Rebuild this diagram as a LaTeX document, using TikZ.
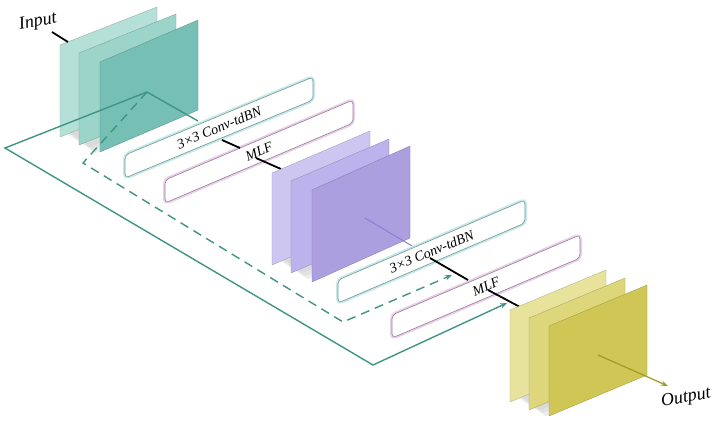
\documentclass[tikz,border=0pt]{standalone}
\usepackage{fontspec}
\setmainfont{Liberation Serif}
\usetikzlibrary{arrows.meta}
\definecolor{teal1}{HTML}{B4E0D8}\definecolor{teal2}{HTML}{9DD4CA}\definecolor{teal3}{HTML}{76BFB4}
\definecolor{pur1}{HTML}{CDC6F0}\definecolor{pur2}{HTML}{BDB3EC}\definecolor{pur3}{HTML}{AB9FE0}
\definecolor{yel1}{HTML}{E8E39C}\definecolor{yel2}{HTML}{DDD67A}\definecolor{yel3}{HTML}{D0C655}
\definecolor{lineteal}{HTML}{3F9484}\definecolor{glowteal}{HTML}{9ED8D8}\definecolor{glowpur}{HTML}{D8B0D8}
\definecolor{olive}{HTML}{A09A20}\definecolor{purline}{HTML}{8A7FD8}
\tikzset{
 blk/.style={line width=1.8pt, black},
 loop/.style={line width=1.4pt, lineteal},
 lbl/.style={font=\itshape\fontsize{14}{14}\selectfont, rotate=22.5, inner sep=0pt},
}
\newcommand{\plane}[6]{% x1 ytop1 x2 ytop2 height color
 \fill[#6] (#1,#2) -- (#3,#4) -- (#3,#4+#5) -- (#1,#2+#5) -- cycle;
 \draw[#6!75!black, line width=0.3pt] (#1,#2) -- (#3,#4) -- (#3,#4+#5) -- (#1,#2+#5) -- cycle;}
\newcommand{\shadow}[4]{% x1 ybottom x2 ybottom2
 \foreach \k in {0,3,6}{
 \fill[gray!40, opacity=0.35] (#1+\k,#2-8) -- (#3+\k,#4-8) -- (#3+36-\k,#4+16-\k) -- (#1+36-\k,#2+16-\k) -- cycle;}}
\newcommand{\lbox}[6]{% x1 ytop1 x2 ytop2 glow name
 \draw[#5, line width=4pt, opacity=0.6, rounded corners=4pt] (#1,#2) -- (#3,#4) -- (#3,#4+23) -- (#1,#2+23) -- cycle;
 \draw[fill=white, draw=#5!70!black, line width=0.6pt, rounded corners=4pt] (#1,#2) -- (#3,#4) -- (#3,#4+23) -- (#1,#2+23) -- cycle;
 \coordinate (#6) at ({(#1+#3)/2},{(#2+#4)/2+11.5});}
\begin{document}
\begin{tikzpicture}[x=1pt,y=-1pt]
\useasboundingbox (0,0) rectangle (717,439);
% input planes
\shadow{60}{137}{158}{97}
\plane{60}{45}{157}{7}{92}{teal1}
\plane{79}{53}{176}{14}{92}{teal2}
\plane{100}{62}{198}{20}{90}{teal3}
\coordinate (inC) at (147,92);
\coordinate (inTag) at (68,42);
\node[font=\itshape\fontsize{18}{18}\selectfont, rotate=10] (input) at (38,22) {Input};
\draw[blk] (52,32) coordinate (i0) -- (inTag);
% loops
\coordinate (L1) at (5,148); \coordinate (L2) at (373,365); \coordinate (L3) at (507,303);
\coordinate (D1) at (83,163); \coordinate (D2) at (343,322); \coordinate (D3) at (452,275);
\draw[loop, -{Stealth[length=7pt]}] (inC) -- (L1) -- (L2) -- (L3);
\draw[loop, dashed, dash pattern=on 9pt off 6pt, -{Stealth[length=7pt]}] (inC) -- (D1) -- (D2) -- (D3);
\draw[loop] (inC) -- (198,121);
% boxes 1
\lbox{125}{155}{313}{77}{glowteal}{c1}
\lbox{165}{180}{353}{100}{glowpur}{m1}
\node[lbl] (t1) at (c1) {3×3 Conv-tdBN};
\node[lbl] (t2) at (m1) {MLF};
\draw[blk] (222,140) -- (240,148);
\draw[blk] (256,158) -- (281,169);
% purple planes
\shadow{272}{263}{370}{222}
\plane{272}{173}{370}{131}{92}{pur1}
\plane{291}{181}{389}{139}{92}{pur2}
\plane{312}{190}{410}{146}{92}{pur3}
\coordinate (pC) at (365,218);
\draw[purline, line width=1pt] (pC) -- (412,246);
% boxes 2
\lbox{338}{280}{525}{200}{glowteal}{c2}
\lbox{392}{315}{580}{235}{glowpur}{m2}
\node[lbl] (t3) at (c2) {3×3 Conv-tdBN};
\node[lbl] (t4) at (m2) {MLF};
\draw[blk] (430,258) -- (468,280);
\draw[blk] (488,290) -- (520,307);
% yellow planes
\shadow{510}{400}{606}{360}
\plane{510}{310}{606}{270}{92}{yel1}
\plane{529}{318}{625}{278}{92}{yel2}
\plane{549}{326}{647}{285}{90}{yel3}
\node[font=\itshape\fontsize{18}{18}\selectfont, rotate=10] (output) at (686,398) {Output};
\coordinate (yC) at (598,355);
\draw[olive, line width=1.2pt, -{Stealth[length=7pt]}] (yC) -- (668,386);
\end{tikzpicture}
\end{document}
